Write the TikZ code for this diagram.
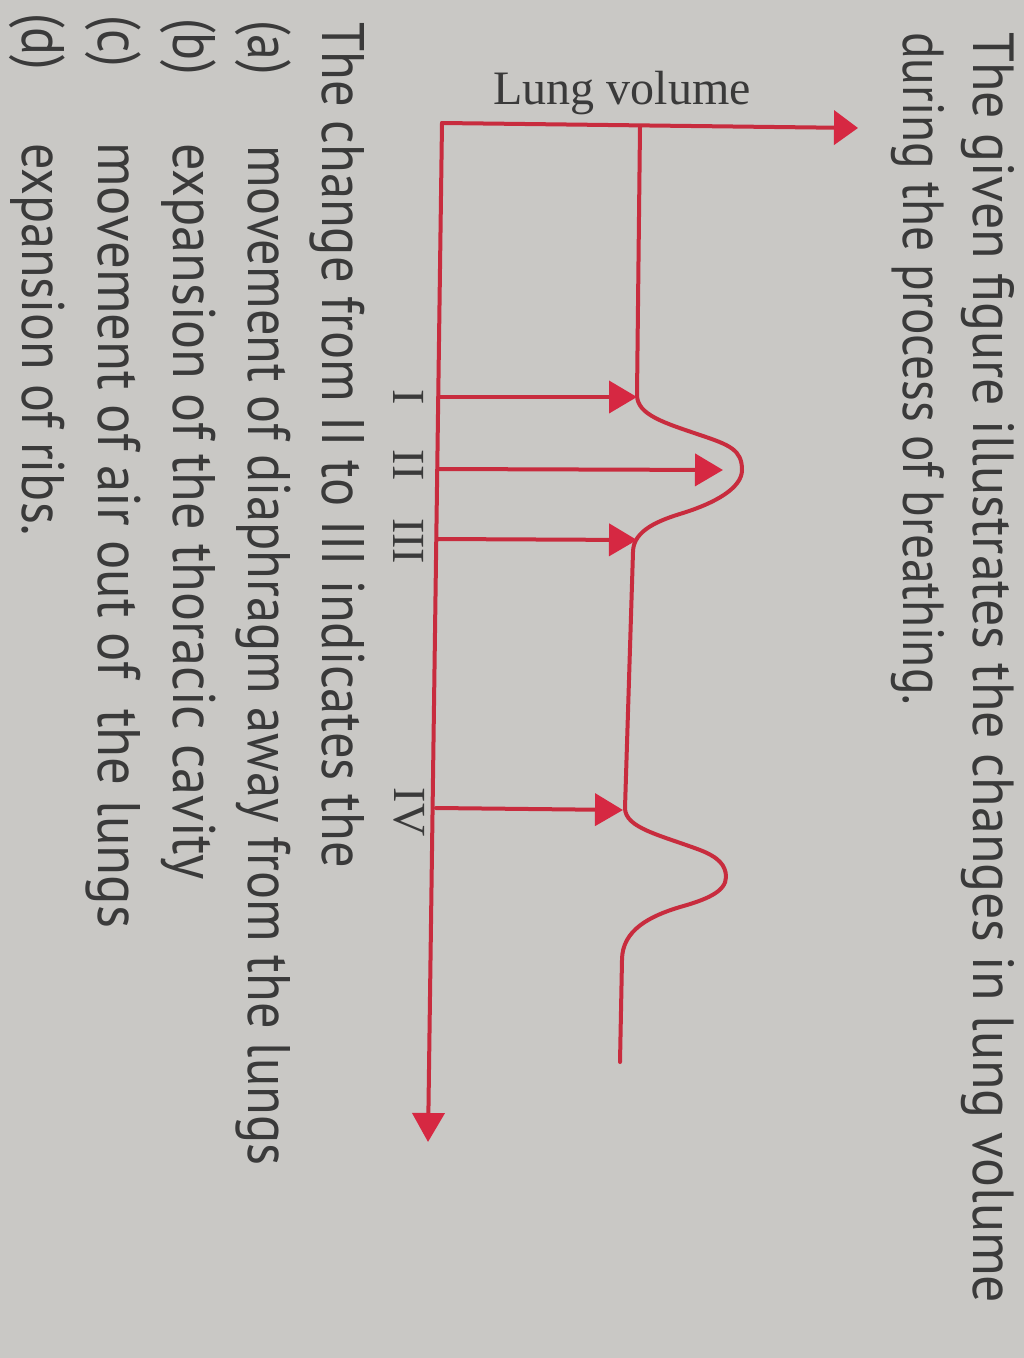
\documentclass[tikz,border=0pt]{standalone}
\usepackage{fontspec}
\usepackage{graphicx}
\usetikzlibrary{arrows.meta}
\newfontfamily\bodyfont[FakeStretch=0.865]{PT Sans}
\newfontfamily\labelfont{Liberation Serif}
\newcommand{\fitw}[2]{\resizebox{#1}{\height}{#2}}
\definecolor{paper}{RGB}{201,200,197}
\definecolor{curvered}{RGB}{200,44,62}
\definecolor{headred}{RGB}{214,40,66}
\definecolor{ink}{RGB}{58,58,58}
\tikzset{
  redline/.style={draw=curvered, line width=4pt, line cap=round, line join=round},
  redarrow/.style={redline, -{Triangle[length=28pt, width=32pt, color=headred]}},
  bodyline/.style={rotate=-90, anchor=base west, inner sep=0pt, text=ink,
    font=\bodyfont\fontsize{58}{70}\selectfont},
  lowline/.style={bodyline, font=\bodyfont\fontsize{60}{72}\selectfont},
  numeral/.style={rotate=-90, anchor=center, inner sep=0pt, text=ink,
    font=\labelfont\fontsize{46}{50}\selectfont},
  axislabel/.style={anchor=base, inner sep=0pt, text=ink,
    font=\labelfont\fontsize{48}{54}\selectfont},
}
\begin{document}
\begin{tikzpicture}[x=1pt, y=-1pt]
  \fill[paper] (0,0) rectangle (1024,1358);
  \useasboundingbox (0,0) rectangle (1024,1358);

  % question text
  \node[bodyline] (q1) at (973,32) {\fitw{1271pt}{The given figure illustrates the changes in lung volume}};
  \node[bodyline] (q2) at (903,32) {\fitw{673pt}{during the process of breathing.}};

  % axes
  \coordinate (origin) at (442,123);
  \coordinate (xend) at (858,128);
  \coordinate (yend) at (428,1142);
  \node[axislabel] (lv) at (622,104) {Lung volume};
  \draw[redline, -{Triangle[length=24pt, width=34pt, color=headred]}] (origin) -- (xend);
  \draw[redline, -{Triangle[length=29pt, width=32pt, color=headred]}] (origin) -- (yend);

  % curve
  \coordinate (c0) at (640,127);
  \coordinate (cI) at (637,395);
  \coordinate (cII) at (742,470);
  \coordinate (cIII) at (633,552);
  \coordinate (cIV) at (625,808);
  \coordinate (cend) at (620,1062);
  \draw[redline] (c0) -- (cI)
    .. controls (637,415) and (665,423) .. (700,435)
    .. controls (730,445) and (742,450) .. (cII)
    .. controls (742,488) and (715,503) .. (683,513)
    .. controls (660,520) and (633,530) .. (cIII)
    -- (cIV)
    .. controls (625,828) and (660,835) .. (700,850)
    .. controls (718,857) and (726,865) .. (726,877)
    .. controls (726,892) and (705,900) .. (680,907)
    .. controls (650,916) and (622,930) .. (622,960)
    -- (cend);

  % time marks
  \coordinate (aI) at (440,397);
  \coordinate (aII) at (439,469);
  \coordinate (aIII) at (438,539);
  \coordinate (aIV) at (436,808);
  \coordinate (tI) at (637,397);
  \coordinate (tII) at (723,470);
  \coordinate (tIII) at (637,540);
  \coordinate (tIV) at (623,810);
  \draw[redarrow] (aI) -- (tI);
  \draw[redarrow] (aII) -- (tII);
  \draw[redarrow] (aIII) -- (tIII);
  \draw[redarrow] (aIV) -- (tIV);
  \node[numeral] (nI) at (409,397) {I};
  \node[numeral] (nII) at (409,465) {II};
  \node[numeral] (nIII) at (409,541) {III};
  \node[numeral] (nIV) at (409,812) {IV};

  % question stem and options
  \node[lowline] (stem) at (322,22) {\fitw{846pt}{The change from II to III indicates the}};
  \node[lowline] (la) at (248,20) {(a)};
  \node[lowline] (oa) at (248,145) {\fitw{1020pt}{movement of diaphragm away from the lungs}};
  \node[lowline] (lb) at (173,18) {(b)};
  \node[lowline] (ob) at (173,143) {\fitw{737pt}{expansion of the thoracic cavity}};
  \node[lowline] (lc) at (98,15) {(c)};
  \node[lowline] (oc) at (98,142) {\fitw{786pt}{movement of air out of\hspace{0.25em} the lungs}};
  \node[lowline] (ld) at (23,13) {(d)};
  \node[lowline] (od) at (23,143) {\fitw{392pt}{expansion of ribs.}};
\end{tikzpicture}
\end{document}
